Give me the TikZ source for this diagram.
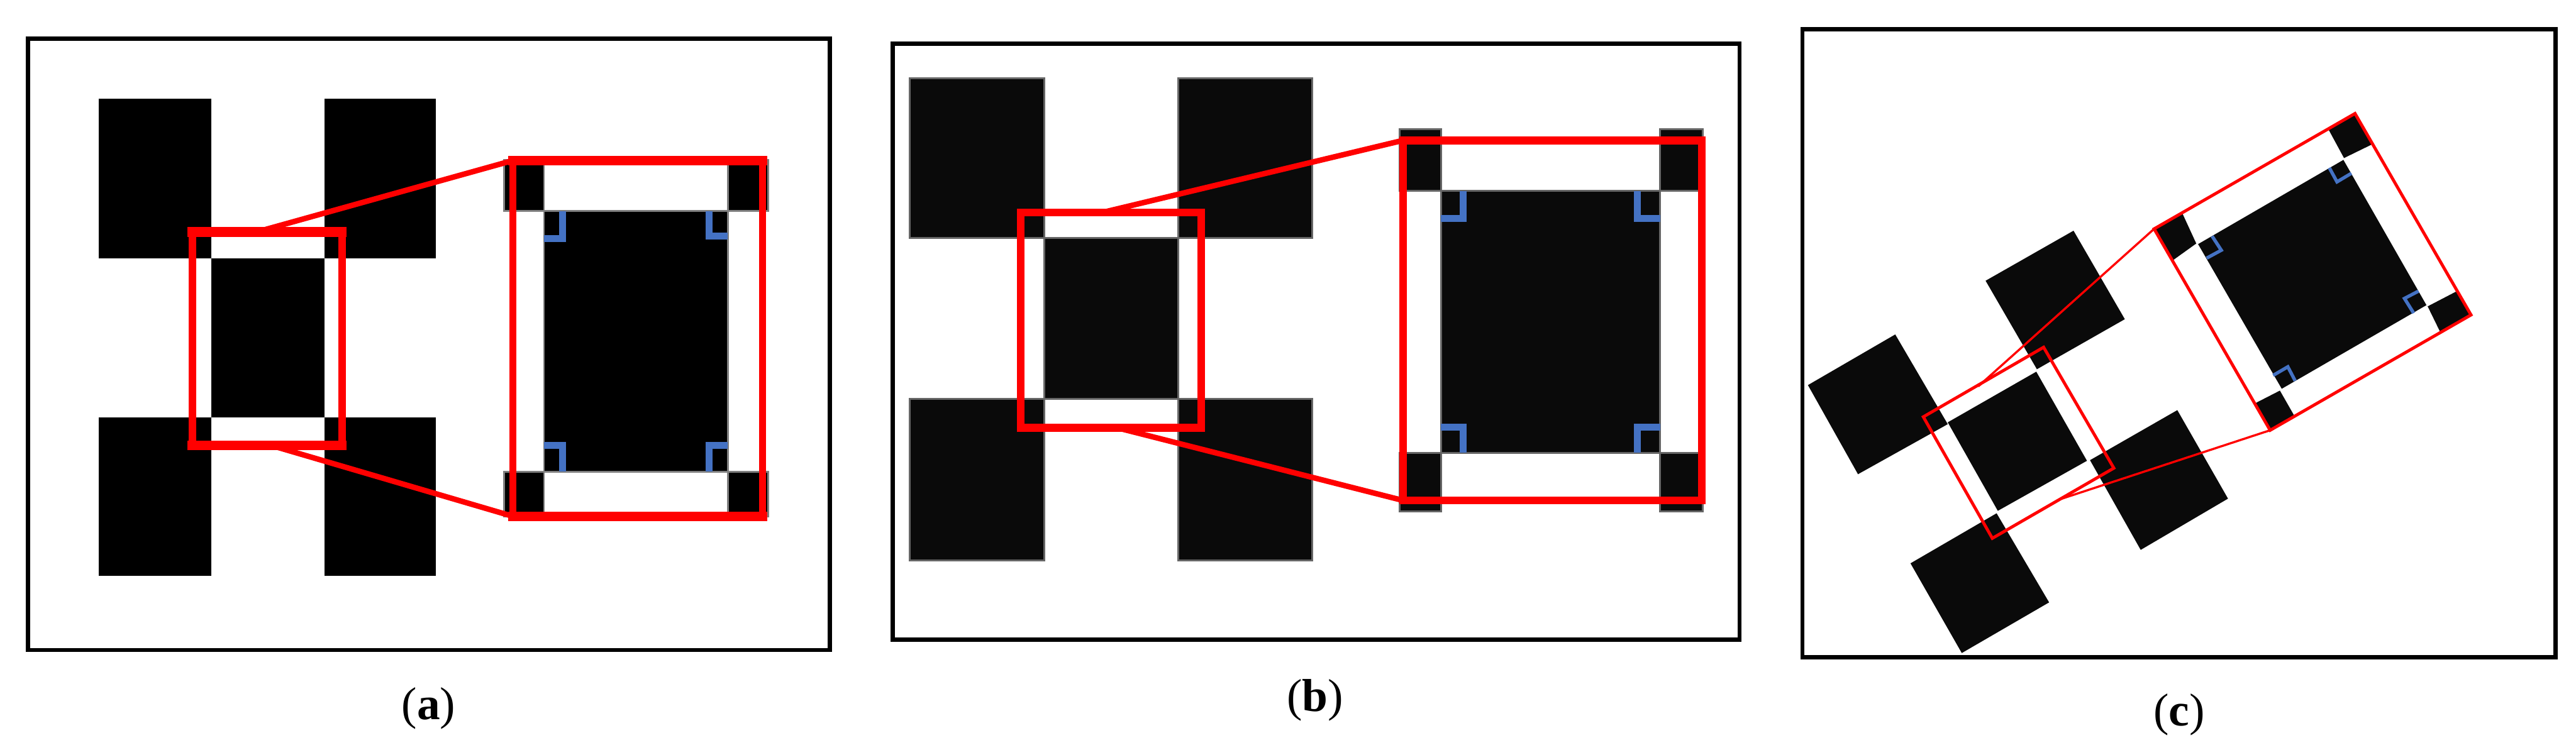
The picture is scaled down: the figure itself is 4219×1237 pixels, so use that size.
\documentclass[tikz,border=0pt]{standalone}
\usepackage{fontspec}
\setmainfont{Liberation Serif}
\definecolor{markblue}{HTML}{4472C4}
\definecolor{softblack}{HTML}{0A0A0A}
\tikzset{
	frame/.style={draw=black,line width=0.07cm,fill=white},
	plainsq/.style={fill=black},
	softsq/.style={fill=softblack,draw=black!60,line width=0.03cm},
	edgesq/.style={fill=black,draw=black!50,line width=0.03cm},
	corner/.style={draw=markblue,line width=0.115cm},
	thinmark/.style={draw=markblue,line width=0.055cm},
	redwide/.style={draw=red,line width=0.16cm,line cap=rect},
	redmid/.style={draw=red,line width=0.13cm,line cap=rect},
	rednarrow/.style={draw=red,line width=0.12cm},
	redline/.style={draw=red,line width=0.09cm},
	redrot/.style={draw=red,line width=0.05cm},
	redhair/.style={draw=red,line width=0.035cm},
	caption/.style={inner sep=0pt,font=\fontsize{21.5}{24}\selectfont}
}

\begin{document}
\begin{tikzpicture}[x=0.01cm,y=-0.01cm]
	\useasboundingbox (0,0) rectangle (4219,1237);

	% panel a
	\draw[frame] (46,63) rectangle (1359,1065);

	\fill[plainsq] (162,162) rectangle (346,423);
	\fill[plainsq] (531,162) rectangle (714,423);
	\fill[plainsq] (346,423) rectangle (531,684);
	\fill[plainsq] (162,684) rectangle (346,944);
	\fill[plainsq] (531,684) rectangle (714,944);

	\draw[edgesq] (891,346) rectangle (1192,773);
	\draw[edgesq] (826,262) rectangle (891,346);
	\draw[edgesq] (1192,262) rectangle (1258,346);
	\draw[edgesq] (826,773) rectangle (891,846);
	\draw[edgesq] (1192,773) rectangle (1258,846);

	\draw[corner] (921,346) |- (891,391);
	\draw[corner] (1161,346) |- (1192,387);
	\draw[corner] (891,730) -| (921,773);
	\draw[corner] (1192,730) -| (1161,773);

	\coordinate (aSmallA) at (315,380);
	\coordinate (aSmallB) at (560,380);
	\coordinate (aSmallC) at (560,730);
	\coordinate (aSmallD) at (315,730);
	\coordinate (aBigA) at (840,263);
	\coordinate (aBigB) at (1249,263);
	\coordinate (aBigC) at (1249,846);
	\coordinate (aBigD) at (840,846);
	\coordinate (aTop) at (435,376);
	\coordinate (aBot) at (455,733);

	\draw[rednarrow] (aSmallA) rectangle (aSmallC);
	\draw[redwide] (aSmallA) -- (aSmallB);
	\draw[redwide] (aSmallD) -- (aSmallC);
	\draw[rednarrow] (aBigA) rectangle (aBigC);
	\draw[redwide] (aBigA) -- (aBigB);
	\draw[redwide] (aBigD) -- (aBigC);
	\draw[redline] (aTop) -- (aBigA);
	\draw[redline] (aBot) -- (aBigD);

	\node[caption] (capA) at (702,1161) {(\textbf{a})};

	% panel b
	\draw[frame] (1462,72) rectangle (2849,1048);

	\draw[softsq] (1490,128) rectangle (1710,390);
	\draw[softsq] (1930,128) rectangle (2149,390);
	\draw[softsq] (1710,390) rectangle (1930,654);
	\draw[softsq] (1490,654) rectangle (1710,918);
	\draw[softsq] (1930,654) rectangle (2149,918);

	\draw[softsq] (2360,313) rectangle (2719,742);
	\draw[softsq] (2292,212) rectangle (2360,313);
	\draw[softsq] (2719,212) rectangle (2789,313);
	\draw[softsq] (2292,742) rectangle (2360,838);
	\draw[softsq] (2719,742) rectangle (2789,838);

	\draw[corner] (2396,313) |- (2360,358);
	\draw[corner] (2682,313) |- (2719,358);
	\draw[corner] (2360,700) -| (2396,742);
	\draw[corner] (2719,700) -| (2682,742);

	\coordinate (bSmallA) at (1672,348);
	\coordinate (bSmallB) at (1967,348);
	\coordinate (bSmallC) at (1967,701);
	\coordinate (bSmallD) at (1672,701);
	\coordinate (bBigA) at (2298,230);
	\coordinate (bBigB) at (2787,230);
	\coordinate (bBigC) at (2787,820);
	\coordinate (bBigD) at (2298,820);
	\coordinate (bTop) at (1806,348);
	\coordinate (bBot) at (1830,701);

	\draw[rednarrow] (bSmallA) rectangle (bSmallC);
	\draw[redmid] (bSmallA) -- (bSmallB);
	\draw[redmid] (bSmallD) -- (bSmallC);
	\draw[rednarrow] (bBigA) rectangle (bBigC);
	\draw[redmid] (bBigA) -- (bBigB);
	\draw[redmid] (bBigD) -- (bBigC);
	\draw[redline] (bTop) -- (bBigA);
	\draw[redline] (bBot) -- (bBigD);

	\node[caption] (capB) at (2154,1147) {(\textbf{b})};

	% panel c
	\draw[frame] (2952,47.5) rectangle (4185.5,1077);

	\fill[softblack] (3252,460) -- (3396,378) -- (3480,523) -- (3336,605) -- cycle;
	\fill[softblack] (2961,631) -- (3104,548) -- (3190,695) -- (3043,777) -- cycle;
	\fill[softblack] (3190,692) -- (3335,609) -- (3418,755) -- (3272,837) -- cycle;
	\fill[softblack] (3129,923) -- (3270,841) -- (3356,987) -- (3213,1070) -- cycle;
	\fill[softblack] (3423,754) -- (3566,672) -- (3649,817) -- (3506,901) -- cycle;

	\fill[softblack] (3600,400) -- (3838,262) -- (3974,500) -- (3737,637) -- cycle;
	\fill[softblack] (3528,375) -- (3574,349) -- (3597,399) -- (3558,427) -- cycle;
	\fill[softblack] (3813,211) -- (3857,186) -- (3886,236) -- (3839,259) -- cycle;
	\fill[softblack] (3976,502) -- (4024,477) -- (4047,516) -- (3997,545) -- cycle;
	\fill[softblack] (3693,661) -- (3734,640) -- (3758,682) -- (3718,705) -- cycle;

	\draw[thinmark] (3623,387) -- (3638,410) -- (3614,423);
	\draw[thinmark] (3815,275) -- (3827.5,298) -- (3851,284);
	\draw[thinmark] (3961,477) -- (3938,489) -- (3953,513);
	\draw[thinmark] (3723,615) -- (3747,601) -- (3759,624);

	\coordinate (cSmallA) at (3150,683);
	\coordinate (cSmallB) at (3347,569);
	\coordinate (cSmallC) at (3462,767);
	\coordinate (cSmallD) at (3263,882);
	\coordinate (cBigA) at (3528,375);
	\coordinate (cBigB) at (3857,186);
	\coordinate (cBigC) at (4047,516);
	\coordinate (cBigD) at (3718,705);
	\coordinate (cTop) at (3240,633);
	\coordinate (cBot) at (3377,817);

	\draw[redrot] (cSmallA) -- (cSmallB) -- (cSmallC) -- (cSmallD) -- cycle;
	\draw[redrot] (cBigA) -- (cBigB) -- (cBigC) -- (cBigD) -- cycle;
	\draw[redhair] (cTop) -- (cBigA);
	\draw[redhair] (cBot) -- (cBigD);

	\node[caption] (capC) at (3569,1171) {(\textbf{c})};
\end{tikzpicture}
\end{document}
